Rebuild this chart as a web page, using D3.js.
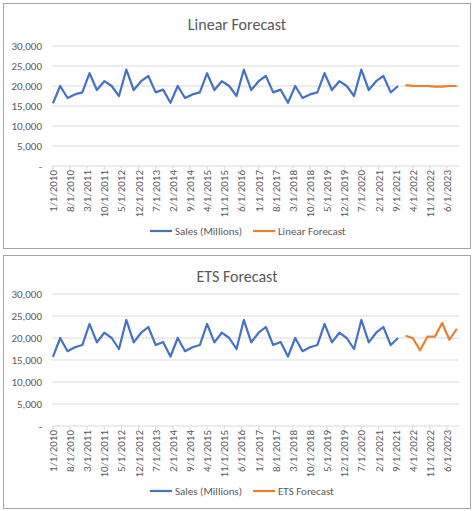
<!DOCTYPE html>
<html>
<head>
<meta charset="utf-8">
<script src="https://cdn.jsdelivr.net/npm/d3@7"></script>
<style>
  body { margin: 0; background: #fff; font-family: Calibri, Carlito, "Liberation Sans", sans-serif; }
</style>
</head>
<body>
<svg id="c" width="474" height="511"></svg>
<script>
// quarterly sales, 1/1/2010 .. 10/1/2021
const sales = [15700, 20000, 17000, 17900, 18400, 23200, 19000, 21200, 20000, 17500, 24100, 19000, 21200, 22500, 18400, 19100,
               15800, 20000, 17000, 17900, 18400, 23200, 19000, 21200, 20000, 17500, 24100, 19000, 21200, 22500, 18400, 19100,
               15800, 20000, 17000, 17900, 18400, 23200, 19000, 21200, 20000, 17500, 24100, 19000, 21200, 22500, 18400, 20000]
// quarterly forecasts, 1/1/2022 .. 10/1/2023
const linearForecast = [20200, 20050, 20000, 20000, 19850, 19850, 20000, 20000]
const etsForecast = [20500, 20000, 17200, 20300, 20300, 23400, 19600, 22100]
const yTicks = [0, 5000, 10000, 15000, 20000, 25000, 30000]

const salesDates = sales.map((_, i) => new Date(2010, i * 3, 1)),
      fcDates = linearForecast.map((_, i) => new Date(2022, i * 3, 1)),
      tickDates = d3.timeMonth.range(new Date(2010, 0, 1), new Date(2023, 11, 1)).filter((d, i) => i % 7 == 0)

const svg = d3.select('#c'),
      grey = '#595959',
      fmt = d3.format(',')

function chart(top, h, title, fc, fcName) {
  let g = svg.append('g').attr('transform', 'translate(0,' + top + ')')
  g.append('rect').attr('x', 3.5).attr('y', 0.5).attr('width', 467).attr('height', h)
    .attr('fill', '#fff').attr('stroke', '#a6a6a6')

  g.append('text').attr('x', 237).attr('y', 27).attr('text-anchor', 'middle')
    .attr('font-size', 16).attr('fill', grey).text(title)

  let x = d3.scaleTime().domain([new Date(2009, 11, 20), new Date(2023, 9, 28)]).range([52, 459]),
      y = d3.scaleLinear().domain([0, 30000]).range([top < 100 ? 163 : 171, top < 100 ? 43 : 39])

  g.selectAll('.grid').data(yTicks.slice(1)).join('line')
    .attr('x1', 52).attr('x2', 459).attr('y1', d => y(d)).attr('y2', d => y(d))
    .attr('stroke', '#d9d9d9')
  g.selectAll('.yl').data(yTicks).join('text')
    .attr('x', 42).attr('y', d => y(d) + 4).attr('text-anchor', 'end')
    .attr('font-size', 11).attr('fill', grey)
    .text(d => d == 0 ? '-' : fmt(d))

  g.append('line').attr('x1', 52).attr('x2', 459).attr('y1', y(0)).attr('y2', y(0)).attr('stroke', '#d9d9d9')
  g.selectAll('.tk').data(tickDates).join('line')
    .attr('x1', d => x(d)).attr('x2', d => x(d)).attr('y1', y(0)).attr('y2', y(0) + 4).attr('stroke', '#d9d9d9')
  g.selectAll('.xl').data(tickDates).join('text')
    .attr('transform', d => 'translate(' + (x(d) + 4) + ',' + (y(0) + 4) + ') rotate(-90)')
    .attr('text-anchor', 'end').attr('font-size', 11).attr('fill', grey)
    .text(d => (d.getMonth() + 1) + '/1/' + d.getFullYear())

  let line = d3.line().x(d => x(d[0])).y(d => y(d[1]))
  g.append('path').attr('d', line(d3.zip(salesDates, sales)))
    .attr('fill', 'none').attr('stroke', '#4472c4').attr('stroke-width', 2.2).attr('stroke-linejoin', 'round')
  g.append('path').attr('d', line(d3.zip(fcDates, fc)))
    .attr('fill', 'none').attr('stroke', '#ed7d31').attr('stroke-width', 2.2).attr('stroke-linejoin', 'round')

  // legend
  let ly = h - 17,
      lg = g.append('g').attr('transform', 'translate(' + (fcName.length > 16 ? 145 : 150) + ',' + ly + ')')
  lg.append('line').attr('x1', 0).attr('x2', 22).attr('stroke', '#4472c4').attr('stroke-width', 2.2)
  lg.append('text').attr('x', 25).attr('y', 4).attr('font-size', 11).attr('fill', grey).text('Sales (Millions)')
  lg.append('line').attr('x1', 103).attr('x2', 125).attr('stroke', '#ed7d31').attr('stroke-width', 2.2)
  lg.append('text').attr('x', 128).attr('y', 4).attr('font-size', 11).attr('fill', grey).text(fcName)
}

chart(3, 245, 'Linear Forecast', linearForecast, 'Linear Forecast')
chart(255, 253, 'ETS Forecast', etsForecast, 'ETS Forecast')
</script>
</body>
</html>
